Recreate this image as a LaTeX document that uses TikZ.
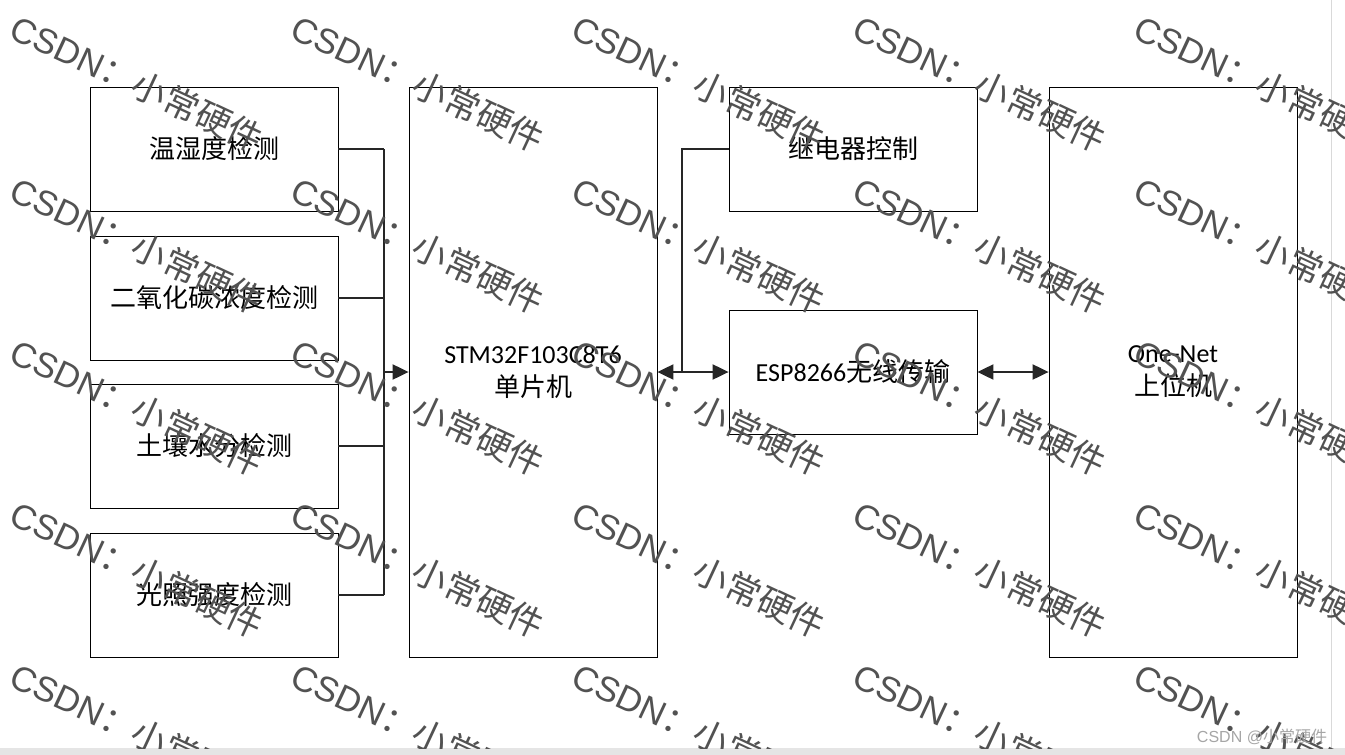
\documentclass[tikz,border=0pt]{standalone}
\usepackage{fontspec}
\setmainfont{Carlito}
\newfontfamily\cjk{Noto Sans CJK SC}
\newfontfamily\wmfont{Liberation Sans}
\usetikzlibrary{arrows.meta}
\begin{document}
\begin{tikzpicture}[x=1pt,y=-1pt,
  box/.style={draw=black, line width=0.8pt, fill=white, minimum width=248pt, minimum height=124pt, inner sep=0pt, font=\fontsize{26}{33}\selectfont, align=center},
  tallbox/.style={box, minimum height=570pt},
  conn/.style={draw=black!85, line width=2pt},
  arr/.style={conn, -{Triangle[length=16pt,width=15pt]}},
  darr/.style={conn, {Triangle[length=16pt,width=15pt]}-{Triangle[length=16pt,width=15pt]}},
  wmark/.style={rotate=-25, anchor=base west, text=black!68, font=\fontsize{35}{35}\selectfont, inner sep=0pt}]
\useasboundingbox (0,0) rectangle (1345,755);
\fill[white] (0,0) rectangle (1345,755);
% window chrome
\fill[black!10] (0,748) rectangle (1345,755);
\draw[black!15, line width=0.6pt] (1331,0) -- (1331,748);

% boxes
\node[box] (t1) at (214,149) {\cjk 温湿度检测};
\node[box] (t2) at (214,298) {\cjk 二氧化碳浓度检测};
\node[box] (t3) at (214,446) {\cjk 土壤水分检测};
\node[box] (t4) at (214,595) {\cjk 光照强度检测};
\node[tallbox] (mcu) at (533,372) {STM32F103C8T6\\{\cjk 单片机}};
\node[box] (relay) at (853,149) {\cjk 继电器控制};
\node[box] (esp) at (853,372) {ESP8266{\cjk 无线传输}};
\node[tallbox] (net) at (1173,372) {One-Net\\{\cjk 上位机}};

% connectors
\coordinate (bx) at (384,0);
\coordinate (jx) at (682,0);
\draw[conn] (t1.east) -- (t1.east -| bx);
\draw[conn] (t2.east) -- (t2.east -| bx);
\draw[conn] (t3.east) -- (t3.east -| bx);
\draw[conn] (t4.east) -- (t4.east -| bx);
\draw[conn] (t1.east -| bx) -- (t4.east -| bx);
\draw[arr] (mcu.west -| bx) -- (mcu.west);
\draw[darr] (mcu.east) -- (esp.west);
\draw[conn] (mcu.east -| jx) |- (relay.west);
\draw[darr] (esp.east) -- (net.west);

% watermarks
\begin{scope}
\clip (0,0) rectangle (1345,748);
\foreach \i in {0,...,4}{
  \foreach \j in {0,...,4}{
    \node[wmark] (w\i\j) at ({7+281*\i},{37+162*\j}) {\wmfont CSDN\cjk ：小常硬件};
  }
}
\end{scope}
\node[text=black!35, font=\fontsize{16}{16}\selectfont, inner sep=0pt] (sig) at (1262,737) {\wmfont CSDN @\cjk 小常硬件};
\end{tikzpicture}
\end{document}
